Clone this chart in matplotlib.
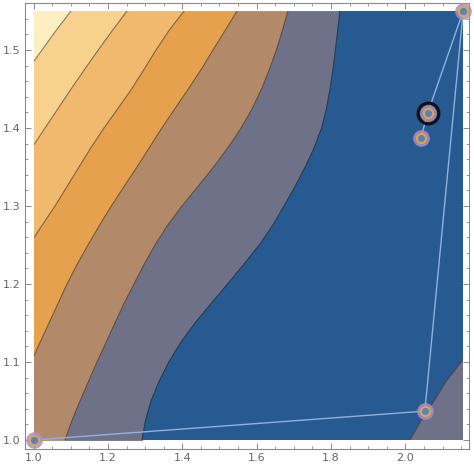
import numpy as np
import matplotlib
matplotlib.use("Agg")
import matplotlib.pyplot as plt
from matplotlib.patches import Rectangle
from matplotlib.ticker import MultipleLocator, FormatStrFormatter

# ---- data ----
x_domain = [1.0, 2.155]
y_domain = [1.0, 1.55]

# y positions at which the contour boundaries were read (1.000 ... 1.550, step 0.025)
y_samples = [1.000, 1.025, 1.050, 1.075, 1.100, 1.125, 1.150, 1.175, 1.200, 1.225,
             1.250, 1.275, 1.300, 1.325, 1.350, 1.375, 1.400, 1.425, 1.450, 1.475,
             1.500, 1.525, 1.550]

# x position of each contour boundary at those y values
# (values outside the plotted domain are clipped away)
bound_yellow_peach = [0.3212, 0.3561, 0.3911, 0.4260, 0.4610, 0.4959, 0.5309, 0.5658,
                      0.6008, 0.6357, 0.6707, 0.7056, 0.7406, 0.7755, 0.8105, 0.8454,
                      0.8804, 0.9153, 0.9503, 0.9852, 1.0228, 1.0605, 1.1008]
bound_peach_lorange = [0.4700, 0.5050, 0.5400, 0.5750, 0.6100, 0.6450, 0.6800, 0.7150,
                       0.7500, 0.7850, 0.8200, 0.8550, 0.8900, 0.9250, 0.9610, 0.9960,
                       1.0310, 1.0660, 1.1010, 1.1370, 1.1740, 1.2120, 1.2513]
bound_lorange_orange = [0.6384, 0.6734, 0.7083, 0.7433, 0.7782, 0.8132, 0.8481, 0.8831,
                        0.9180, 0.9530, 0.9879, 1.0228, 1.0578, 1.0901, 1.1223, 1.1546,
                        1.1895, 1.2268, 1.2638, 1.2970, 1.3293, 1.3642, 1.4046]
bound_orange_brown = [0.8965, 0.9207, 0.9449, 0.9691, 0.9933, 1.0175, 1.0417, 1.0659,
                      1.0901, 1.1169, 1.1465, 1.1771, 1.2093, 1.2433, 1.2782, 1.3115,
                      1.3447, 1.3804, 1.4160, 1.4506, 1.4825, 1.5148, 1.5470]
bound_brown_gray = [1.0847, 1.1035, 1.1250, 1.1478, 1.1707, 1.1949, 1.2191, 1.2433,
                    1.2702, 1.2970, 1.3266, 1.3600, 1.3990, 1.4420, 1.4840, 1.5230,
                    1.5580, 1.5880, 1.6130, 1.6340, 1.6530, 1.6690, 1.6841]
bound_gray_blue = [1.2917, 1.3011, 1.3159, 1.3374, 1.3636, 1.3958, 1.4341, 1.4772,
                   1.5218, 1.5649, 1.6069, 1.6428, 1.6734, 1.7030, 1.7305, 1.7547,
                   1.7745, 1.7876, 1.7970, 1.8051, 1.8115, 1.8177, 1.8239]
bound_blue_gray = [2.0121, 2.0417, 2.0766, 2.1089, 2.1492, 2.19, 2.23, 2.27,
                   2.31, 2.35, 2.39, 2.43, 2.47, 2.51, 2.55, 2.59,
                   2.63, 2.67, 2.71, 2.75, 2.79, 2.83, 2.87]

band_colors = ["#FDEFC2", "#F8D18F", "#F1B96E", "#E6A14F", "#B28A69", "#6F7189", "#275A90", "#6F7189"]

# optimisation path points
path_x = [1.000, 2.052, 2.155, 2.060, 2.041]
path_y = [1.000, 1.037, 1.550, 1.4196, 1.3868]
highlight_x = [2.060]
highlight_y = [1.4196]

# ---- figure ----
W, H = 474, 471
fig = plt.figure(figsize=(W / 100, H / 100), dpi=100, facecolor="white")
ax = fig.add_axes([25 / W, 1 - 449 / H, (469 - 25) / W, (449 - 3) / H])
ax.set_xlim(0.97715, 2.1707)
ax.set_ylim(0.98846, 1.5603)

ys = np.array(y_samples)
far_left = np.full_like(ys, -1.0)
far_right = np.full_like(ys, 4.0)
bounds = [far_left, np.array(bound_yellow_peach), np.array(bound_peach_lorange),
          np.array(bound_lorange_orange), np.array(bound_orange_brown),
          np.array(bound_brown_gray), np.array(bound_gray_blue),
          np.array(bound_blue_gray), far_right]

clip = Rectangle((x_domain[0], y_domain[0]), x_domain[1] - x_domain[0],
                 y_domain[1] - y_domain[0], transform=ax.transData,
                 facecolor="none", edgecolor="none")
ax.add_patch(clip)

for i, col in enumerate(band_colors):
    f = ax.fill_betweenx(ys, bounds[i], bounds[i + 1], facecolor=col,
                         edgecolor=col, linewidth=0.6, zorder=1)
    f.set_clip_path(clip)

for b in bounds[1:-1]:
    ln, = ax.plot(b, ys, color="#2a2418", alpha=0.55, lw=0.8, zorder=2,
                  solid_joinstyle="round")
    ln.set_clip_path(clip)

# path
ax.plot(path_x, path_y, color="#8DB2E2", lw=1.0, zorder=3, clip_on=False)
ax.plot(path_x, path_y, "o", ms=12, mfc="#A78FCB", mec="none", alpha=0.85,
        zorder=4, clip_on=False)
ax.plot(path_x, path_y, "o", ms=6.6, mfc="#4F86C6", mec="#E8A23A", mew=1.5,
        zorder=5, clip_on=False)
ax.plot(highlight_x, highlight_y, "o", ms=15, mfc="none", mec="#111111", mew=2.2,
        zorder=6, clip_on=False)

# axes styling
for s in ax.spines.values():
    s.set_color("#8a8a8a")
    s.set_linewidth(0.8)
ax.xaxis.set_major_locator(MultipleLocator(0.2))
ax.xaxis.set_minor_locator(MultipleLocator(0.05))
ax.yaxis.set_major_locator(MultipleLocator(0.1))
ax.yaxis.set_minor_locator(MultipleLocator(0.02))
ax.tick_params(which="both", direction="in", top=True, right=True, color="#8a8a8a",
               labelcolor="#666666", labelsize=8)
ax.tick_params(which="major", length=4.5, width=0.7, pad=3)
ax.tick_params(which="minor", length=2.5, width=0.6)
ax.xaxis.set_major_formatter(FormatStrFormatter("%.1f"))
ax.yaxis.set_major_formatter(FormatStrFormatter("%.1f"))

fig.savefig("out.png", dpi=100, facecolor="white")
